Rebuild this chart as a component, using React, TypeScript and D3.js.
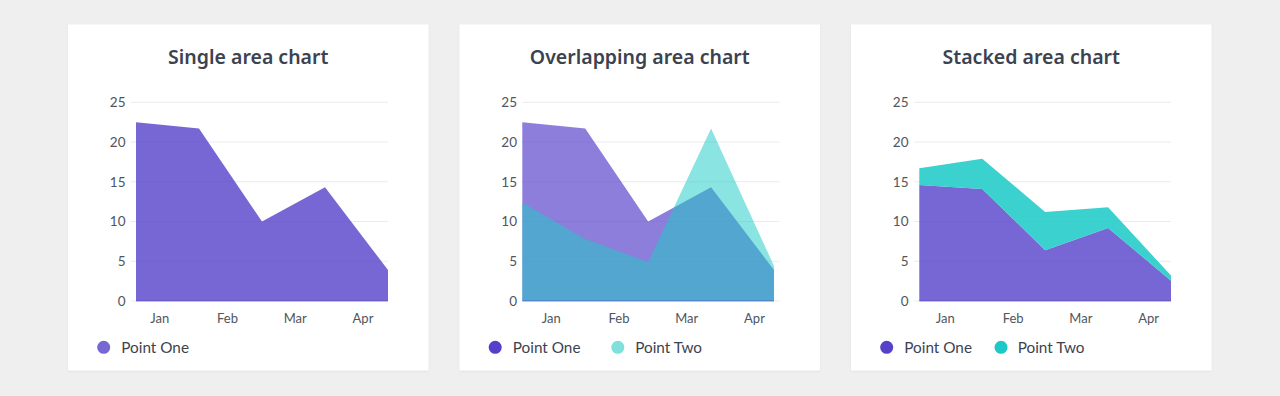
import React from "react";
import * as d3 from "d3";

const months = ["Jan", "Feb", "Mar", "Apr"];
const yTicks = [0, 5, 10, 15, 20, 25];
const pointIdx = [0, 1, 2, 3, 4];

const singleValues = [22.5, 21.7, 10, 14.3, 3.9];
const overlapOne = [22.5, 21.7, 10, 14.3, 3.9];
const overlapTwo = [12.4, 7.8, 4.9, 21.7, 4.4];
const stackedOne = [14.6, 14.1, 6.4, 9.2, 2.55];
const stackedTwo = [2.1, 3.8, 4.8, 2.6, 0.65];

const PURPLE = "#5541c9";
const TEAL = "#1fcbc7";
const FONT = "Lato, 'Noto Sans', sans-serif";
const TITLE_FONT = "'Noto Sans', Lato, sans-serif";

const CARD_W = 360.5;
const CARD_H = 346;
const CARD_Y = 24.5;

const y = d3.scaleLinear().domain([0, 25]).range([276.5, 77.8]);

type Series = { values: number[]; base?: number[]; color: string; opacity: number };
type Legend = { label: string; color: string; dotX: number; textX: number };

function Card({
  x0,
  title,
  series,
  legend,
  dataRange,
  labelRange,
}: {
  x0: number;
  title: string;
  series: Series[];
  legend: Legend[];
  dataRange: [number, number];
  labelRange: [number, number];
}) {
  const x = d3.scaleLinear().domain([0, pointIdx.length - 1]).range(dataRange);
  const xl = d3.scalePoint<string>().domain(months).range(labelRange);
  return (
    <g transform={`translate(${x0},${CARD_Y})`}>
      <rect x={0} y={0} width={CARD_W} height={CARD_H} fill="#fff" filter="url(#shadow)" />
      <text
        x={CARD_W / 2}
        y={32.3}
        dy="0.35em"
        textAnchor="middle"
        fontFamily={TITLE_FONT}
        fontWeight={600}
        fontSize={19.5}
        fill="#3b4250"
      >
        {title}
      </text>
      {yTicks.map((t) => (
        <g key={t}>
          <line x1={63} x2={320} y1={y(t)} y2={y(t)} stroke="#ebebeb" strokeWidth={1} />
          <text
            x={57.5}
            y={y(t)}
            dy="0.35em"
            textAnchor="end"
            fontFamily={FONT}
            fontSize={13.5}
            fill="#50555e"
          >
            {t}
          </text>
        </g>
      ))}
      {series.map((s, i) => {
        const area = d3
          .area<number>()
          .x((d) => x(d))
          .y0((d) => y(s.base ? s.base[d] : 0))
          .y1((d) => y((s.base ? s.base[d] : 0) + s.values[d]));
        return <path key={i} d={area(pointIdx) || ""} fill={s.color} fillOpacity={s.opacity} />;
      })}
      <line
        x1={dataRange[0]}
        x2={dataRange[1]}
        y1={y(0)}
        y2={y(0)}
        stroke={PURPLE}
        strokeOpacity={0.6}
        strokeWidth={1}
      />
      {months.map((m) => (
        <text
          key={m}
          x={xl(m)}
          y={293.8}
          dy="0.35em"
          textAnchor="middle"
          fontFamily={FONT}
          fontSize={13}
          fill="#50555e"
        >
          {m}
        </text>
      ))}
      {legend.map((l) => (
        <g key={l.label}>
          <circle cx={l.dotX} cy={322.8} r={6.5} fill={l.color} />
          <text
            x={l.textX}
            y={322.8}
            dy="0.35em"
            fontFamily={FONT}
            fontSize={15.3}
            fill="#3d4350"
          >
            {l.label}
          </text>
        </g>
      ))}
    </g>
  );
}

export default function App() {
  return (
    <div style={{ position: "fixed", left: 0, top: 0 }}>
      <svg width={1280} height={396} style={{ display: "block" }}>
        <defs>
          <filter id="shadow" x="-5%" y="-5%" width="110%" height="110%">
            <feDropShadow dx={0} dy={1} stdDeviation={1.2} floodColor="#000" floodOpacity={0.06} />
          </filter>
        </defs>
        <rect x={0} y={0} width={1280} height={396} fill="#efefef" />
        <Card
          x0={68}
          title="Single area chart"
          series={[{ values: singleValues, color: PURPLE, opacity: 0.8 }]}
          legend={[{ label: "Point One", color: "#7767d3", dotX: 35.7, textX: 53.3 }]}
          dataRange={[68, 320]}
          labelRange={[91.7, 295]}
        />
        <Card
          x0={459.5}
          title="Overlapping area chart"
          series={[
            { values: overlapOne, color: PURPLE, opacity: 0.68 },
            { values: overlapTwo, color: TEAL, opacity: 0.52 },
          ]}
          legend={[
            { label: "Point One", color: PURPLE, dotX: 35.7, textX: 53.3 },
            { label: "Point Two", color: "#7fe0dc", dotX: 158.3, textX: 175.7 },
          ]}
          dataRange={[62.8, 314.5]}
          labelRange={[91.7, 295]}
        />
        <Card
          x0={851}
          title="Stacked area chart"
          series={[
            { values: stackedOne, color: PURPLE, opacity: 0.8 },
            { values: stackedTwo, base: stackedOne, color: TEAL, opacity: 0.88 },
          ]}
          legend={[
            { label: "Point One", color: PURPLE, dotX: 35.7, textX: 53.3 },
            { label: "Point Two", color: "#1fc8c8", dotX: 150, textX: 166.7 },
          ]}
          dataRange={[68.3, 320]}
          labelRange={[94.3, 297.7]}
        />
      </svg>
    </div>
  );
}
